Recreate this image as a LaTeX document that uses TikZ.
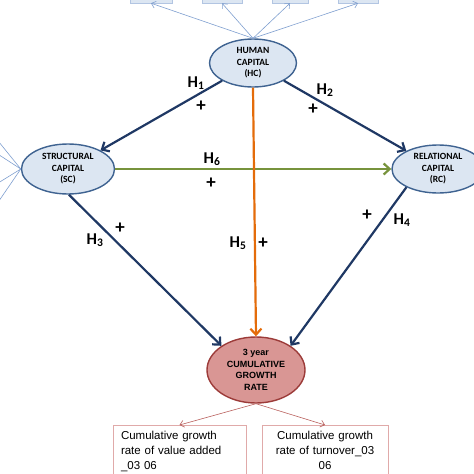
\documentclass[tikz,border=0pt]{standalone}
\usepackage{fontspec}
\setmainfont{Carlito}
\newfontfamily\arialfont{Liberation Sans}
\usetikzlibrary{shapes.geometric,arrows.meta}
\definecolor{navyline}{HTML}{1F3864}
\definecolor{orangeline}{HTML}{E46C0A}
\definecolor{greenline}{HTML}{77933C}
\definecolor{ellfill}{HTML}{DCE6F2}
\definecolor{ellborder}{HTML}{3F6391}
\definecolor{growthfill}{HTML}{D99694}
\definecolor{growthborder}{HTML}{9C3B39}
\definecolor{indline}{HTML}{7F9FCF}
\definecolor{outborder}{HTML}{E0AAA9}
\definecolor{outline}{HTML}{B9605D}
\begin{document}
\begin{tikzpicture}[x=1pt, y=-1pt,
        capital/.style={ellipse, draw=ellborder, fill=ellfill, line width=1.4pt, inner sep=0pt, align=center, font=\fontsize{9.5}{11.5}\selectfont\bfseries},
        growth/.style={ellipse, draw=growthborder, fill=growthfill, line width=1.4pt, inner sep=0pt, align=center, font=\arialfont\fontsize{9}{11.5}\selectfont\bfseries, minimum width=98pt, minimum height=66pt},
        indbox/.style={rectangle, draw=indline!60, fill=ellfill, minimum height=18pt},
        outbox/.style={rectangle, draw=outborder, line width=0.8pt, inner xsep=8pt, inner ysep=6pt, font=\arialfont\fontsize{11.5}{15}\selectfont, anchor=north},
        hyp/.style={font=\fontsize{16.5}{18}\selectfont\bfseries},
        sign/.style={font=\fontsize{19}{20}\selectfont\bfseries},
        arrow/.style={-{Straight Barb[length=6pt,width=11pt]}, line width=2.2pt},
        thinarrow/.style={-{Straight Barb[length=4pt,width=7pt]}, line width=0.6pt}
    ]
        \useasboundingbox (0,0) rectangle (474,474);
        \clip (0,0) rectangle (474,474);

        % indicator boxes
        \node[indbox, minimum width=42pt] (ihc1) at (151,-6) {};
        \node[indbox, minimum width=40pt] (ihc2) at (222,-6) {};
        \node[indbox, minimum width=36pt] (ihc3) at (290,-6) {};
        \node[indbox, minimum width=40pt] (ihc4) at (358,-6) {};
        \coordinate (isc1) at (-10,131);
        \coordinate (isc2) at (-10,149);
        \coordinate (isc3) at (-10,188);
        \coordinate (isc4) at (-10,214);

        % constructs
        \node[capital, minimum width=87pt, minimum height=48pt] (hc) at (253,63) {HUMAN\\CAPITAL\\(HC)};
        \node[capital, minimum width=93pt, minimum height=50pt] (sc) at (68,169) {STRUCTURAL\\CAPITAL\\(SC)};
        \node[capital, minimum width=92pt, minimum height=48pt] (rc) at (438,169) {RELATIONAL\\CAPITAL\\(RC)};
        \node[growth] (cgr) at (256,370) {3 year\\CUMULATIVE\\GROWTH\\RATE};

        % measures
        \node[outbox, text width=117pt, align=left] (va) at (179.5,425) {Cumulative growth\\rate of value added\\\_03 06};
        \node[outbox, text width=110pt, align=center] (to) at (325,425) {Cumulative growth\\rate of turnover\_03\\06};

        % indicator links
        \foreach \i in {1,2,3,4} {
            \draw[thinarrow, indline] (hc.north) -- (ihc\i.south);
            \draw[thinarrow, indline] (sc.west) -- (isc\i);
        }
        \draw[thinarrow, outline] (cgr.south) -- (va.north);
        \draw[thinarrow, outline] (cgr.south) -- (to.north);

        % hypotheses
        \draw[arrow, navyline] (hc) -- (sc);
        \draw[arrow, navyline] (hc) -- (rc);
        \draw[arrow, greenline] (sc.east) -- (rc.west);
        \draw[arrow, orangeline] (hc.south) -- (cgr.north);
        \draw[arrow, navyline] (sc.-88) -- (cgr.145);
        \draw[arrow, navyline] (rc.210) -- (cgr.35);

        \node[hyp] (h1) at (196,83) {H\textsubscript{1}};
        \node[sign] (p1) at (201,106) {+};
        \node[hyp] (h2) at (325,90) {H\textsubscript{2}};
        \node[sign] (p2) at (313,109) {+};
        \node[hyp] (h3) at (95,240) {H\textsubscript{3}};
        \node[sign] (p3) at (120,228) {+};
        \node[hyp] (h4) at (402,220) {H\textsubscript{4}};
        \node[sign] (p4) at (367,215) {+};
        \node[hyp] (h5) at (238,243) {H\textsubscript{5}};
        \node[sign] (p5) at (263,243) {+};
        \node[hyp] (h6) at (212,159) {H\textsubscript{6}};
        \node[sign] (p6) at (211,183) {+};
    \end{tikzpicture}
\end{document}
